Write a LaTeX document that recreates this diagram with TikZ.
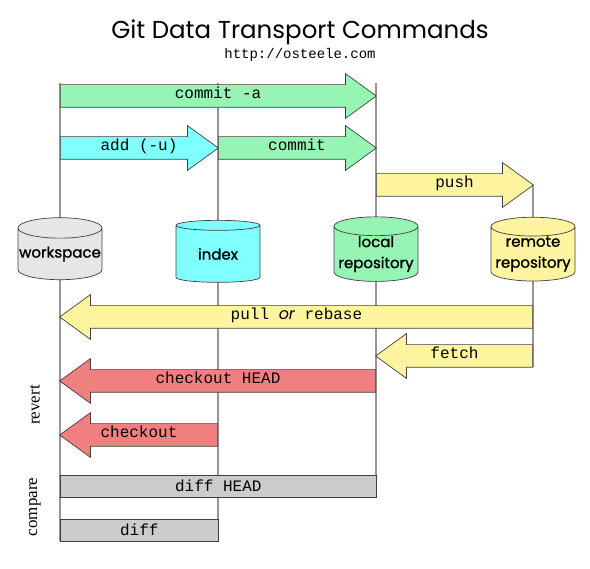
\documentclass[tikz,border=0pt]{standalone}
\usepackage{fontspec}
\setmainfont{Liberation Serif}
\setmonofont{Liberation Mono}
\newfontfamily\futura{Poppins}
\newfontfamily\futurab{Poppins}[FakeBold=1.2]
\usetikzlibrary{shapes.geometric,shapes.arrows}

\definecolor{mint}{RGB}{150,245,180}
\definecolor{aqua}{RGB}{128,255,255}
\definecolor{butter}{RGB}{255,245,160}
\definecolor{salmon}{RGB}{240,128,128}
\definecolor{lanegray}{RGB}{150,150,150}
\definecolor{boxgray}{RGB}{204,204,204}
\definecolor{wsgray}{RGB}{230,230,230}

\begin{document}
\begin{tikzpicture}[x=1pt,y=-1pt,
		lane/.style={lanegray,line width=2pt},
		arrowbase/.style={single arrow,draw=black!75,line width=0.7pt,anchor=tail,
			single arrow head extend=11pt,single arrow tip angle=72,
			inner xsep=0pt,inner ysep=0pt,text height=14pt,text depth=8pt,
			font=\ttfamily\fontsize{16}{16}\selectfont},
		cmd/.style={arrowbase,execute at begin node={\hspace*{15pt}}},
		back/.style={arrowbase,shape border rotate=180,execute at end node={\hspace*{15pt}}},
		cmpbox/.style={draw=black!75,line width=0.7pt,fill=boxgray,anchor=west,
			minimum height=22pt,inner sep=0pt,font=\ttfamily\fontsize{16}{16}\selectfont},
		store/.style={cylinder,shape border rotate=90,draw=black!75,line width=0.7pt,
			aspect=0.25,minimum width=84pt,minimum height=62pt,inner sep=0pt,
			align=center,font=\futurab\fontsize{15}{21}\selectfont},
		side/.style={rotate=90,font=\fontsize{17}{17}\selectfont}]
		\useasboundingbox (0,0) rectangle (590,569);
		
		\node[font=\futura\fontsize{24.5}{24.5}\selectfont] (title) at (300,32) {Git Data Transport Commands};
		\node[font=\ttfamily\fontsize{14}{14}\selectfont] (url) at (300,55) {http://osteele.com};
		
		% lanes
		\draw[lane] (60,83) -- (60,541);
		\draw[lane] (218,83) -- (218,541);
		\draw[lane] (376,83) -- (376,497);
		\draw[lane] (533,185) -- (533,367);
		
		\node[store,fill=wsgray] (workspace) at (60,254) {workspace};
		\node[store,fill=aqua] (index) at (218,254) {index};
		\node[store,fill=mint] (local) at (376,254) {local\\repository};
		\node[store,fill=butter] (remote) at (533,254) {remote\\repository};
		
		\node[cmd,fill=mint,minimum height=316pt] (commita) at (60,96) {commit -a};
		\node[cmd,fill=aqua,minimum height=158pt] (add) at (60,148) {add (-u)};
		\node[cmd,fill=mint,minimum height=158pt] (commit) at (218,148) {commit};
		\node[cmd,fill=butter,minimum height=157pt] (push) at (376,185) {push};
		
		\node[back,fill=butter,minimum height=473pt] (pull) at (533,317) {pull {\futura\itshape or} rebase};
		\node[back,fill=butter,minimum height=157pt] (fetch) at (533,356) {fetch};
		\node[back,fill=salmon,minimum height=316pt] (checkouthead) at (376,381) {checkout HEAD};
		\node[back,fill=salmon,minimum height=158pt] (checkout) at (218,435) {checkout};
		
		\node[cmpbox,minimum width=316pt] (diffhead) at (60,486) {diff HEAD};
		\node[cmpbox,minimum width=158pt] (diff) at (60,530) {diff};
		
		\node[side] (revert) at (35,405) {revert};
		\node[side] (compare) at (35,507) {compare};
	\end{tikzpicture}
\end{document}
